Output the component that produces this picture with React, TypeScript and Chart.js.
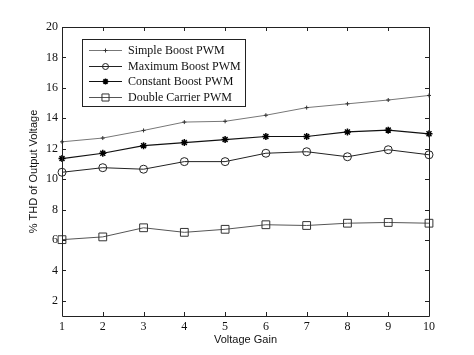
import React, { useEffect, useRef } from "react";
import { Chart, registerables } from "chart.js";
import { drawPoint } from "chart.js/helpers";

Chart.register(...registerables);

const gains = ["1", "2", "3", "4", "5", "6", "7", "8", "9", "10"];
const simpleBoost = [12.45, 12.7, 13.2, 13.75, 13.8, 14.2, 14.7, 14.95, 15.2, 15.5];
const maximumBoost = [10.45, 10.75, 10.65, 11.15, 11.15, 11.7, 11.8, 11.47, 11.93, 11.6];
const constantBoost = [11.35, 11.7, 12.2, 12.4, 12.6, 12.8, 12.8, 13.1, 13.22, 12.98];
const doubleCarrier = [6.02, 6.2, 6.8, 6.5, 6.7, 7.0, 6.95, 7.1, 7.15, 7.1];
const yTicks = [2, 4, 6, 8, 10, 12, 14, 16, 18, 20];
const seriesNames = ["Simple Boost PWM", "Maximum Boost PWM", "Constant Boost PWM", "Double Carrier PWM"];
const legendMarkerRadius = [2, 3, 3, 5];

const frameColor = "#222";

const framePlugin = {
  id: "matlabFrame",
  afterDraw(chart: any) {
    const { ctx, chartArea } = chart;
    const { left, right, top, bottom } = chartArea;
    const xs = chart.scales.x;
    const ys = chart.scales.y;
    ctx.save();
    ctx.strokeStyle = frameColor;
    ctx.lineWidth = 1;
    ctx.beginPath();
    ctx.rect(Math.round(left) + 0.5, Math.round(top) + 0.5, Math.round(right - left), Math.round(bottom - top));
    ctx.stroke();
    const tl = 4;
    ctx.beginPath();
    for (let i = 0; i < gains.length; i++) {
      const px = Math.round(xs.getPixelForValue(i)) + 0.5;
      ctx.moveTo(px, bottom);
      ctx.lineTo(px, bottom - tl);
      ctx.moveTo(px, top);
      ctx.lineTo(px, top + tl);
    }
    for (const v of yTicks) {
      const py = Math.round(ys.getPixelForValue(v)) + 0.5;
      ctx.moveTo(left, py);
      ctx.lineTo(left + tl, py);
      ctx.moveTo(right, py);
      ctx.lineTo(right - tl, py);
    }
    ctx.stroke();

    // legend
    const bx = 82, by = 39, bw = 163, bh = 67;
    ctx.fillStyle = "#fff";
    ctx.fillRect(bx, by, bw, bh);
    ctx.strokeStyle = frameColor;
    ctx.strokeRect(bx + 0.5, by + 0.5, bw, bh);
    ctx.font = "12px 'Liberation Serif', 'Times New Roman', serif";
    ctx.textBaseline = "middle";
    ctx.textAlign = "left";
    chart.data.datasets.forEach((ds: any, i: number) => {
      const yy = Math.round(by + 11 + i * 15.5) + 0.5;
      ctx.strokeStyle = ds.borderColor;
      ctx.lineWidth = ds.borderWidth;
      ctx.beginPath();
      ctx.moveTo(89, yy);
      ctx.lineTo(122, yy);
      ctx.stroke();
      ctx.strokeStyle = ds.pointBorderColor;
      ctx.fillStyle = "rgba(0,0,0,0)";
      ctx.lineWidth = ds.pointBorderWidth;
      drawPoint(ctx, { pointStyle: ds.pointStyle, radius: legendMarkerRadius[i], rotation: 0, borderWidth: ds.pointBorderWidth }, 105.5, yy);
      ctx.fillStyle = "#111";
      ctx.fillText(seriesNames[i], 128, yy + 0.5);
    });
    ctx.restore();
  },
};

export default function App() {
  const ref = useRef<HTMLCanvasElement | null>(null);
  useEffect(() => {
    if (!ref.current) return;
    const serif = { family: "'Liberation Serif', 'Times New Roman', serif", size: 12 };
    const sans = { family: "'Liberation Sans', Arial, sans-serif", size: 11 };
    const chart = new Chart(ref.current, {
      type: "line",
      data: {
        labels: gains,
        datasets: [
          {
            label: seriesNames[0],
            data: simpleBoost,
            borderColor: "#777",
            borderWidth: 1,
            pointStyle: "cross",
            pointRadius: 2,
            pointBorderWidth: 1,
            pointBorderColor: "#333",
            pointBackgroundColor: "rgba(0,0,0,0)",
            clip: false,
          },
          {
            label: seriesNames[1],
            data: maximumBoost,
            borderColor: "#222",
            borderWidth: 1,
            pointStyle: "circle",
            pointRadius: 4,
            pointBorderWidth: 1,
            pointBorderColor: "#222",
            pointBackgroundColor: "rgba(0,0,0,0)",
            clip: false,
          },
          {
            label: seriesNames[2],
            data: constantBoost,
            borderColor: "#111",
            borderWidth: 1.2,
            pointStyle: "star",
            pointRadius: 3.5,
            pointBorderWidth: 1.5,
            pointBorderColor: "#000",
            pointBackgroundColor: "rgba(0,0,0,0)",
            clip: false,
          },
          {
            label: seriesNames[3],
            data: doubleCarrier,
            borderColor: "#555",
            borderWidth: 1,
            pointStyle: "rect",
            pointRadius: 5.5,
            pointBorderWidth: 1,
            pointBorderColor: "#333",
            pointBackgroundColor: "rgba(0,0,0,0)",
            clip: false,
          },
        ],
      },
      options: {
        responsive: false,
        animation: false,
        layout: { padding: { left: 0, top: 27, right: 45, bottom: 0 } },
        plugins: { legend: { display: false }, tooltip: { enabled: false } },
        elements: { line: { tension: 0 } },
        scales: {
          x: {
            type: "category",
            offset: false,
            grid: { display: false, drawTicks: false, offset: false },
            border: { display: false },
            ticks: { color: "#111", font: serif, padding: 4, maxRotation: 0, autoSkip: false },
            title: { display: true, text: "Voltage Gain", color: "#111", font: sans, padding: { top: 2, bottom: 8 } },
            afterFit: (s: any) => { s.height = 39; },
          },
          y: {
            min: 1,
            max: 20,
            grid: { display: false, drawTicks: false },
            border: { display: false },
            ticks: { color: "#111", font: serif, padding: 4 },
            afterBuildTicks: (axis: any) => { axis.ticks = yTicks.map((v) => ({ value: v })); },
            title: { display: true, text: "% THD of Output Voltage", color: "#111", font: sans, padding: { top: 27, bottom: 0 } },
            afterFit: (s: any) => { s.width = 62; },
          },
        },
      },
      plugins: [framePlugin],
    });
    return () => chart.destroy();
  }, []);
  return (
    <div style={{ position: "absolute", left: 0, top: 0, width: 474, height: 355, background: "#fff" }}>
      <canvas ref={ref} width={474} height={355} />
    </div>
  );
}
